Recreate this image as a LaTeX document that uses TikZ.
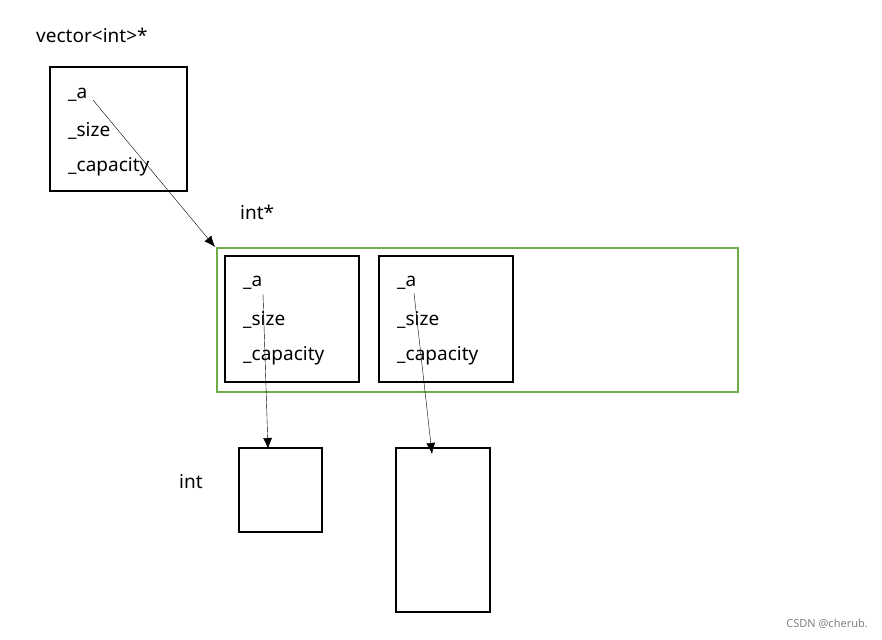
\documentclass[tikz,border=0pt]{standalone}
\usepackage{fontspec}
\setmainfont{Noto Sans}
\usetikzlibrary{arrows.meta,positioning}
\definecolor{arrcol}{HTML}{70AD47}
\tikzset{
  mem box/.style = {draw, line width=1.5pt},
  field/.style = {anchor=west, inner sep=0pt, font=\fontsize{19}{22}\selectfont},
  label text/.style = {anchor=west, inner sep=0pt, font=\fontsize{19}{22}\selectfont},
  ptr/.style = {-{Latex[length=11pt,width=9pt]}, thin},
}
\begin{document}
\begin{tikzpicture}[x=1pt,y=-1pt]
  \useasboundingbox (0,0) rectangle (882,639);

  % vector<int>* object
  \node[label text] (vlab) at (36,35) {vector<int>*};
  \draw[mem box] (50,67) rectangle (187,191);
  \node[field] (va) at (68,95) {\_a};
  \node[field] (vs) at (68,131) {\_size};
  \node[field] (vc) at (68,167) {\_capacity};

  % int* array of vectors
  \node[label text] (ilab) at (240,212) {int*};
  \draw[arrcol, line width=1.5pt] (217,248) rectangle (738,392);
  \coordinate (arr) at (215,247);
  \draw[mem box] (225,256) rectangle (359,382);
  \node[field] (a1) at (243,283) {\_a};
  \node[field] (s1) at (243,320) {\_size};
  \node[field] (c1) at (243,356) {\_capacity};
  \draw[mem box] (379,256) rectangle (513,382);
  \node[field] (a2) at (397,283) {\_a};
  \node[field] (s2) at (397,320) {\_size};
  \node[field] (c2) at (397,356) {\_capacity};

  % int blocks
  \node[label text] (intlab) at (179,482) {int};
  \draw[mem box] (239,448) rectangle (322,532);
  \coordinate (blk1) at (268,449);
  \draw[mem box] (396,448) rectangle (490,612);
  \coordinate (blk2) at (432,454);

  % pointers
  \coordinate (pa) at (93,100);
  \coordinate (p1) at (263,294);
  \coordinate (p2) at (414,293);
  \draw[ptr] (pa) -- (arr);
  \draw[ptr] (p1) -- (blk1);
  \draw[ptr] (p2) -- (blk2);

  \node[anchor=east, inner sep=0pt, text=gray, font=\fontsize{11}{13}\selectfont] (wm) at (868,624) {CSDN @cherub.};
\end{tikzpicture}
\end{document}
